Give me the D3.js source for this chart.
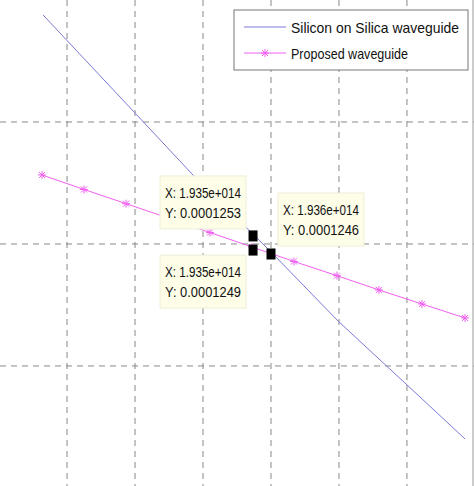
<!DOCTYPE html>
<html><head><meta charset="utf-8">
<script src="https://cdnjs.cloudflare.com/ajax/libs/d3/7.8.5/d3.min.js"></script>
<style>body{margin:0;background:#fff}svg{display:block}</style>
</head><body>
<svg id="c" width="474" height="486"></svg>
<script>
// frequency in units of 1e14 Hz, value in units of 1e-6
const seriesNames = ["Silicon on Silica waveguide", "Proposed waveguide"];
const siliconX = [1.933824, 1.934500, 1.934919, 1.935493, 1.935993, 1.936493, 1.936927];
const siliconY = [134.385, 130.369, 127.869, 124.713, 121.844, 119.262, 117.008];
const proposedX = [1.933816, 1.934125, 1.934434, 1.934743, 1.935051, 1.935360, 1.935669, 1.935985, 1.936294, 1.936610, 1.936927];
const proposedY = [127.828, 127.234, 126.652, 126.066, 125.471, 124.877, 124.283, 123.701, 123.115, 122.541, 121.967];
const xTicks = [1.9340, 1.9345, 1.9350, 1.9355, 1.9360, 1.9365];
const yTicks = [120, 125, 130];
const cursorX = [1.935368, 1.935368, 1.935500];
const cursorY = [125.33, 124.75, 124.59];
const cursorLabels = [["X: 1.935e+014","Y: 0.0001253"],["X: 1.935e+014","Y: 0.0001249"],["X: 1.936e+014","Y: 0.0001246"]];

const W=474,H=486;
const x=d3.scaleLinear().domain([1.933507,1.936993]).range([0,474]);
const y=d3.scaleLinear().domain([135,115.08]).range([0,486]);
const svg=d3.select("#c");
const g=svg.append("g");
g.selectAll(".vg").data(xTicks).join("line").attr("x1",d=>x(d)).attr("x2",d=>x(d)).attr("y1",0).attr("y2",H)
 .attr("stroke","#888").attr("stroke-dasharray","6,5").attr("stroke-width",1);
g.selectAll(".hg").data(yTicks).join("line").attr("y1",d=>y(d)).attr("y2",d=>y(d)).attr("x1",0).attr("x2",W)
 .attr("stroke","#888").attr("stroke-dasharray","6,5").attr("stroke-width",1);
g.append("line").attr("x1",473).attr("x2",473).attr("y1",0).attr("y2",H).attr("stroke","#999");

const line=d3.line().x(d=>x(d[0])).y(d=>y(d[1]));
const blue="#7a7ad8", mag="#f060f0";
g.append("path").attr("d",line(siliconX.map((v,i)=>[v,siliconY[i]]))).attr("fill","none").attr("stroke",blue).attr("stroke-width",1);
const pts=proposedX.map((v,i)=>[v,proposedY[i]]);
g.append("path").attr("d",line(pts)).attr("fill","none").attr("stroke",mag).attr("stroke-width",1);
function star(sel,cx,cy){
  const r=4;
  sel.append("path").attr("d",`M${cx-r},${cy}H${cx+r}M${cx},${cy-r}V${cy+r}M${cx-3},${cy-3}L${cx+3},${cy+3}M${cx-3},${cy+3}L${cx+3},${cy-3}`)
   .attr("stroke",mag).attr("stroke-width",1).attr("fill","none");
}
pts.forEach(p=>star(g,x(p[0]),y(p[1])));

// data cursors
const offs=[[-93,-60],[-93,5],[7,-61]];
cursorX.forEach((cx,i)=>{
  const px=x(cx), py=y(cursorY[i]);
  const bx=px+offs[i][0], by=py+offs[i][1];
  g.append("rect").attr("x",bx).attr("y",by).attr("width",86).attr("height",53).attr("fill","#fdfde8").attr("stroke","#eeeed8");
  cursorLabels[i].forEach((t,j)=>g.append("text").attr("x",bx+5).attr("y",by+22+j*20).text(t)
     .attr("font-family","Liberation Sans, Arial, sans-serif").attr("font-size",15).attr("fill","#111").attr("textLength",76).attr("lengthAdjust","spacingAndGlyphs"));
});
cursorX.forEach((cx,i)=>{
  g.append("rect").attr("x",x(cx)-4.5).attr("y",y(cursorY[i])-5.5).attr("width",9).attr("height",11).attr("fill","#000");
});

// legend
const L=g.append("g");
L.append("rect").attr("x",234).attr("y",10).attr("width",234).attr("height",60).attr("fill","#fff").attr("stroke","#777");
L.append("line").attr("x1",244).attr("x2",286).attr("y1",27).attr("y2",27).attr("stroke",blue);
L.append("line").attr("x1",244).attr("x2",286).attr("y1",53).attr("y2",53).attr("stroke",mag);
star(L,265,53);
seriesNames.forEach((n,i)=>L.append("text").attr("x",291).attr("y",33+i*26).text(n)
  .attr("font-family","Liberation Sans, Arial, sans-serif").attr("font-size",15).attr("fill","#111")
  .attr("textLength",i?117:168).attr("lengthAdjust","spacingAndGlyphs"));
</script>
</body></html>
